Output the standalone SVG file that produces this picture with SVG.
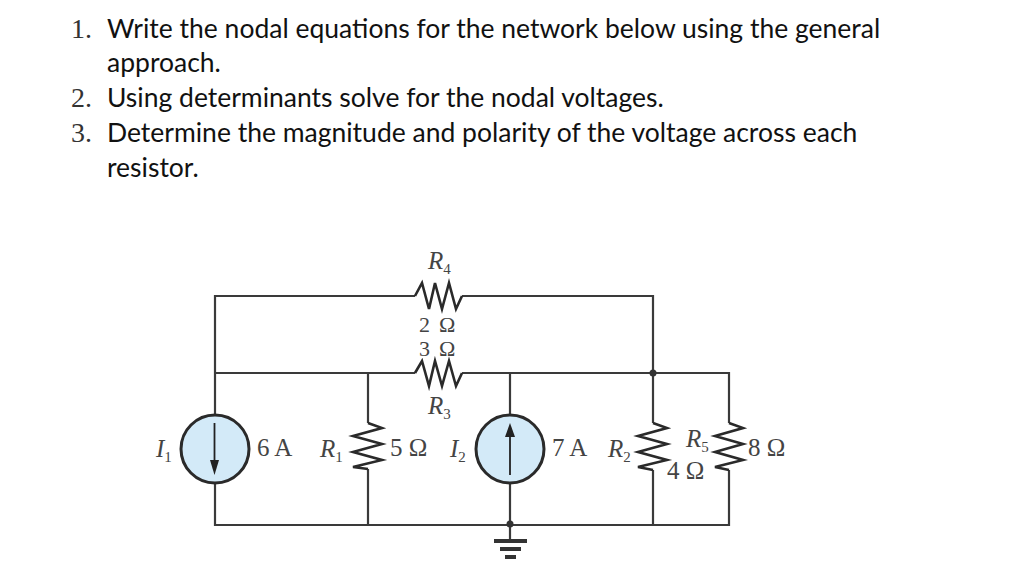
<svg xmlns="http://www.w3.org/2000/svg" width="1017" height="575" viewBox="0 0 1017 575">
<style>
.t{font:26.5px Lato,"Open Sans",sans-serif;fill:#111}
.n{font:28px "Liberation Serif",serif;fill:#333}
.w{fill:none;stroke:#3a3a3a;stroke-width:2.2;stroke-linejoin:miter}
.r{fill:none;stroke:#2a2a2a;stroke-width:2.6}
.s{fill:#d3eaf8;stroke:#2a2a2a;stroke-width:3}
.l{font:25px "Liberation Serif",serif;fill:#444}
.o{font:22px "Liberation Serif",serif;fill:#444;letter-spacing:1.800px}
.i{font-style:italic}
.u{font-size:15px}
</style>
<rect width="1017" height="575" fill="#fff"/>
<g id="text">
<text class="n" x="71" y="38">1.</text><text class="t" x="107" y="38">Write the nodal equations for the network below using the general</text>
<text class="t" x="107" y="72">approach.</text>
<text class="n" x="71" y="107">2.</text><text class="t" x="107" y="107">Using determinants solve for the nodal voltages.</text>
<text class="n" x="71" y="142">3.</text><text class="t" x="107" y="142">Determine the magnitude and polarity of the voltage across each</text>
<text class="t" x="107" y="177">resistor.</text>
</g>
<g id="connectors">
<path class="w" d="M415 296H215V415M215 483V525H729V470M729 423V373H462M415 373H215M368 373V423M368 469V525M510 373V415M510 483V525M462 296H653V423M653 470V525M510 525V541"/>
</g>
<g id="R4"><path class="r" d="M415 296L422 283L429 309L435 283L442 309L449 283L456 309L462 296"/><text class="l i" x="428" y="269">R<tspan class="u" dy="5" font-style="normal">4</tspan></text><text class="o" x="419" y="331.500">2 Ω</text></g>
<g id="R3"><path class="r" d="M415 373L422 361L429 386L435 361L442 386L449 361L456 386L462 373"/><text class="l i" x="428" y="414">R<tspan class="u" dy="5" font-style="normal">3</tspan></text><text class="o" x="419" y="356">3 Ω</text></g>
<g id="R1"><path class="r" d="M368 423L382 428L353 436L382 444L353 452L382 460L353 467L368 469"/><text class="l i" x="320" y="457">R<tspan class="u" dy="5" font-style="normal">1</tspan></text><text class="l" x="390" y="456">5 Ω</text></g>
<g id="R2"><path class="r" d="M653 423L667 428L638 436L667 444L638 452L667 460L638 467L653 470"/><text class="l i" x="608" y="457">R<tspan class="u" dy="5" font-style="normal">2</tspan></text><text class="l" x="667" y="479">4 Ω</text></g>
<g id="R5"><path class="r" d="M729 423L743 428L715 436L743 444L715 452L743 460L715 467L729 470"/><text class="l i" x="686" y="447">R<tspan class="u" dy="5" font-style="normal">5</tspan></text><text class="l" x="748" y="456">8 Ω</text></g>
<g id="I1"><circle class="s" cx="215" cy="449" r="34"/><path d="M214.500 423V462" stroke="#222" stroke-width="1.800"/><path d="M210 460H219L214.500 475Z" fill="#222"/><text class="l i" x="156" y="457">I<tspan class="u" dy="5" font-style="normal">1</tspan></text><text class="l" x="257" y="456">6 A</text></g>
<g id="I2"><circle class="s" cx="510" cy="449" r="34"/><path d="M510 475V435" stroke="#222" stroke-width="1.800"/><path d="M505 437H515L510 423Z" fill="#222"/><text class="l i" x="450" y="457">I<tspan class="u" dy="5" font-style="normal">2</tspan></text><text class="l" x="552" y="456">7 A</text></g>
<g id="junctions"><circle cx="653" cy="373" r="3.500" fill="#333"/><circle cx="510" cy="524" r="3.500" fill="#333"/></g>
<g id="ground"><path d="M494 541H527" stroke="#333" stroke-width="4"/><path d="M500 549H521" stroke="#333" stroke-width="4"/><path d="M505 557H516" stroke="#333" stroke-width="4"/></g>
</svg>
